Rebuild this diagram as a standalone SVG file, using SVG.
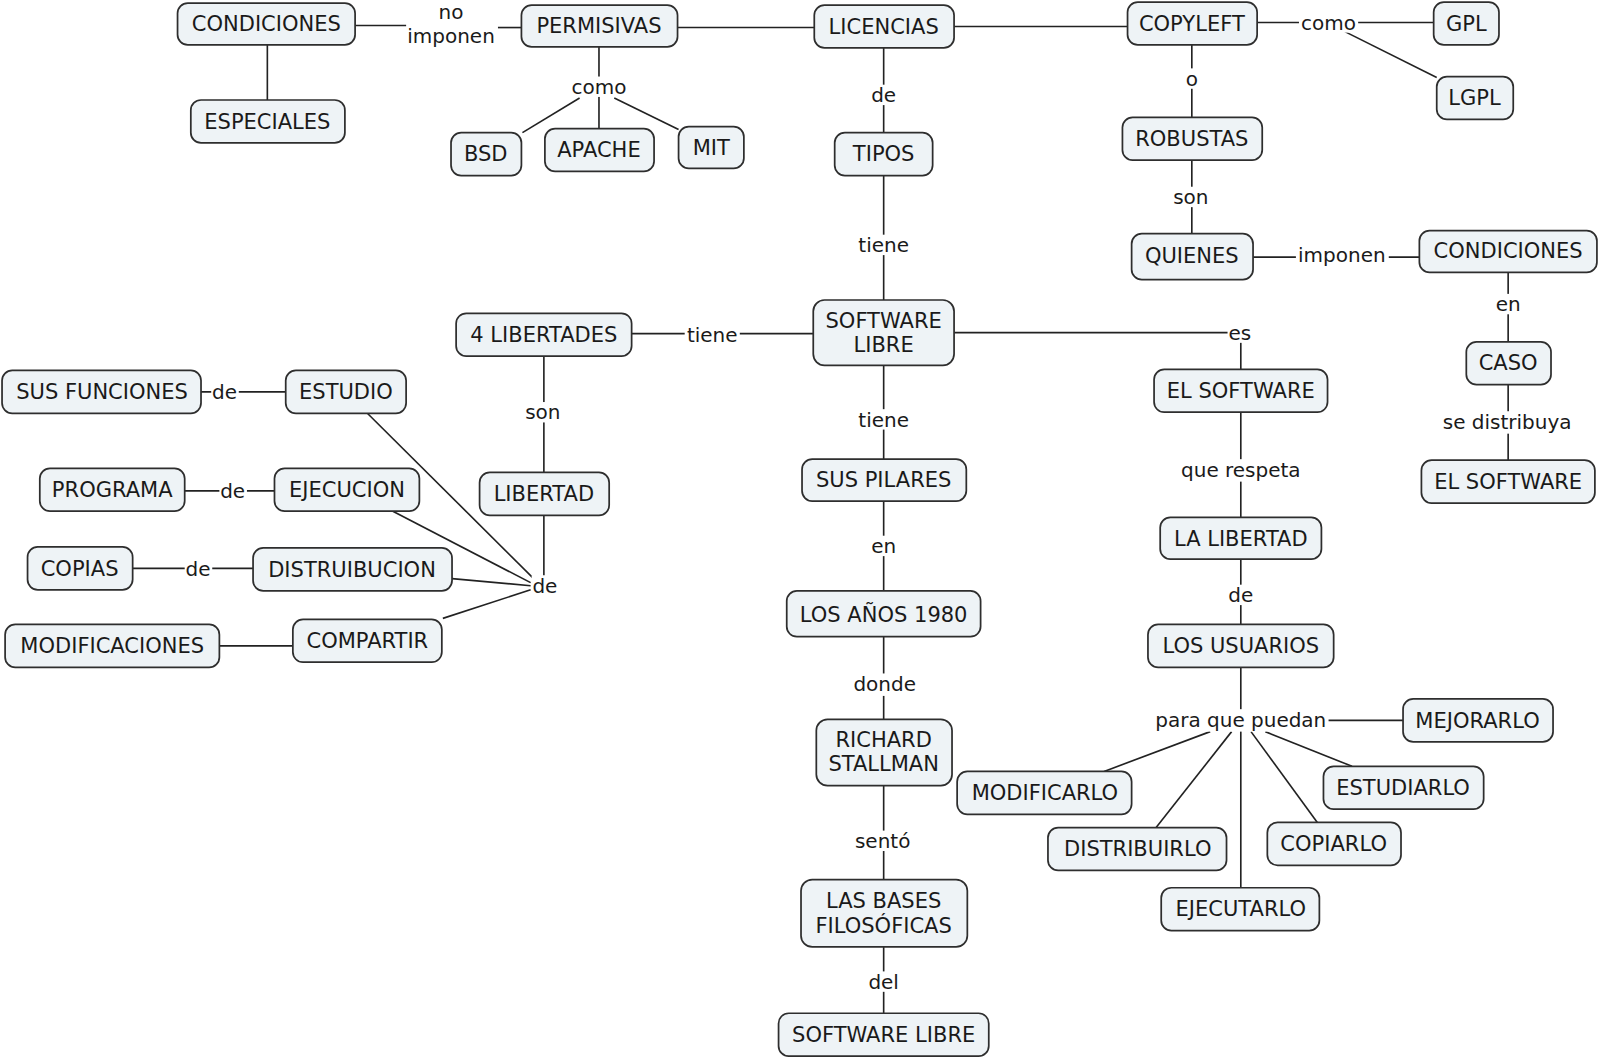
<svg xmlns="http://www.w3.org/2000/svg" width="1600" height="1059" viewBox="0 0 1600 1059">
<style>
.bg{fill:#ffffff}
.n rect{fill:#eef3f6;stroke:#2e2e2e;stroke-width:1.7}
text{font-family:"DejaVu Sans","Verdana",sans-serif;font-size:19.6px;fill:#1a1a1a;text-anchor:middle}
.n text{font-size:20.6px}
.c line,.c polyline{stroke:#222;stroke-width:1.6;fill:none}
.lb rect{fill:#fff}
</style>
<rect class="bg" x="0" y="0" width="1600" height="1059"/>
<g transform="scale(1.0204)">
<g id="connectors" class="c">
<line x1="348" y1="25" x2="400" y2="25"/>
<line x1="485" y1="27" x2="511" y2="27"/>
<line x1="262" y1="44" x2="262" y2="98"/>
<line x1="664" y1="27" x2="798" y2="27"/>
<line x1="587" y1="46" x2="587" y2="126"/>
<line x1="568" y1="96" x2="512" y2="130"/>
<line x1="602" y1="96" x2="665" y2="127"/>
<line x1="866" y1="47" x2="866" y2="294"/>
<line x1="935" y1="26" x2="1105" y2="26"/>
<line x1="1232" y1="22" x2="1405" y2="22"/>
<line x1="1318" y1="31" x2="1408" y2="76"/>
<line x1="1168" y1="44" x2="1168" y2="229"/>
<line x1="1228" y1="252" x2="1391" y2="252"/>
<line x1="1478" y1="267" x2="1478" y2="451"/>
<line x1="619" y1="327" x2="797" y2="327"/>
<polyline points="935,326 1216,326 1216,362"/>
<line x1="533" y1="349" x2="533" y2="564"/>
<line x1="523" y1="567" x2="360" y2="405"/>
<line x1="520" y1="571" x2="385" y2="501"/>
<line x1="520" y1="574" x2="443" y2="567"/>
<line x1="520" y1="578" x2="434" y2="606"/>
<line x1="197" y1="384" x2="280" y2="384"/>
<line x1="181" y1="481" x2="269" y2="481"/>
<line x1="130" y1="557" x2="248" y2="557"/>
<line x1="215" y1="633" x2="287" y2="633"/>
<line x1="866" y1="358" x2="866" y2="993"/>
<line x1="1216" y1="404" x2="1216" y2="870"/>
<line x1="1300" y1="706" x2="1375" y2="706"/>
<line x1="1186" y1="717" x2="1082" y2="756"/>
<line x1="1207" y1="717" x2="1133" y2="811"/>
<line x1="1226" y1="717" x2="1291" y2="806"/>
<line x1="1240" y1="717" x2="1325" y2="751"/>
</g>
<g id="labels" class="lb">
<rect x="398" y="1" width="90" height="46"/><text x="442" y="19">no</text><text x="442" y="42">imponen</text>
<rect x="559" y="75" width="57" height="20"/><text x="587" y="92">como</text>
<rect x="853" y="83" width="27" height="20"/><text x="866" y="100">de</text>
<rect x="839" y="230" width="54" height="20"/><text x="866" y="247">tiene</text>
<rect x="1161" y="67" width="14" height="20"/><text x="1168" y="84">o</text>
<rect x="1273" y="12" width="58" height="20"/><text x="1302" y="29">como</text>
<rect x="1149" y="183" width="37" height="20"/><text x="1167" y="200">son</text>
<rect x="1270" y="240" width="91" height="22"/><text x="1315" y="257">imponen</text>
<rect x="1465" y="288" width="27" height="20"/><text x="1478" y="305">en</text>
<rect x="1412" y="403" width="131" height="22"/><text x="1477" y="420">se distribuya</text>
<rect x="671" y="318" width="54" height="20"/><text x="698" y="335">tiene</text>
<rect x="1203" y="316" width="25" height="20"/><text x="1215" y="333">es</text>
<rect x="514" y="394" width="37" height="20"/><text x="532" y="411">son</text>
<rect x="207" y="374" width="27" height="20"/><text x="220" y="391">de</text>
<rect x="215" y="471" width="27" height="20"/><text x="228" y="488">de</text>
<rect x="181" y="547" width="27" height="20"/><text x="194" y="564">de</text>
<rect x="521" y="564" width="27" height="20"/><text x="534" y="581">de</text>
<rect x="839" y="401" width="54" height="20"/><text x="866" y="418">tiene</text>
<rect x="853" y="525" width="27" height="20"/><text x="866" y="542">en</text>
<rect x="835" y="660" width="65" height="22"/><text x="867" y="677">donde</text>
<rect x="837" y="814" width="57" height="20"/><text x="865" y="831">sentó</text>
<rect x="850" y="952" width="33" height="20"/><text x="866" y="969">del</text>
<rect x="1155" y="450" width="122" height="22"/><text x="1216" y="467">que respeta</text>
<rect x="1203" y="573" width="27" height="20"/><text x="1216" y="590">de</text>
<rect x="1130" y="695" width="172" height="22"/><text x="1216" y="712">para que puedan</text>
</g>
<g id="n-condiciones1" class="n"><rect x="174" y="3" width="174" height="41" rx="10"/><text x="261" y="30">CONDICIONES</text></g>
<g id="n-especiales" class="n"><rect x="187" y="98" width="151" height="42" rx="10"/><text x="262" y="126">ESPECIALES</text></g>
<g id="n-permisivas" class="n"><rect x="511" y="5" width="153" height="41" rx="10"/><text x="587" y="32">PERMISIVAS</text></g>
<g id="n-bsd" class="n"><rect x="442" y="130" width="69" height="42" rx="10"/><text x="476" y="158">BSD</text></g>
<g id="n-apache" class="n"><rect x="534" y="126" width="107" height="42" rx="10"/><text x="587" y="154">APACHE</text></g>
<g id="n-mit" class="n"><rect x="665" y="124" width="64" height="41" rx="10"/><text x="697" y="152">MIT</text></g>
<g id="n-licencias" class="n"><rect x="798" y="5" width="137" height="42" rx="10"/><text x="866" y="33">LICENCIAS</text></g>
<g id="n-tipos" class="n"><rect x="818" y="130" width="96" height="42" rx="10"/><text x="866" y="158">TIPOS</text></g>
<g id="n-copyleft" class="n"><rect x="1105" y="2" width="127" height="42" rx="10"/><text x="1168" y="30">COPYLEFT</text></g>
<g id="n-gpl" class="n"><rect x="1405" y="2" width="64" height="42" rx="10"/><text x="1437" y="30">GPL</text></g>
<g id="n-lgpl" class="n"><rect x="1408" y="75" width="75" height="42" rx="10"/><text x="1445" y="103">LGPL</text></g>
<g id="n-robustas" class="n"><rect x="1100" y="115" width="137" height="42" rx="10"/><text x="1168" y="143">ROBUSTAS</text></g>
<g id="n-quienes" class="n"><rect x="1109" y="229" width="119" height="45" rx="10"/><text x="1168" y="258">QUIENES</text></g>
<g id="n-condiciones2" class="n"><rect x="1391" y="226" width="174" height="41" rx="10"/><text x="1478" y="253">CONDICIONES</text></g>
<g id="n-caso" class="n"><rect x="1437" y="335" width="83" height="42" rx="10"/><text x="1478" y="363">CASO</text></g>
<g id="n-elsoftware2" class="n"><rect x="1393" y="451" width="170" height="42" rx="10"/><text x="1478" y="479">EL SOFTWARE</text></g>
<g id="n-softwarelibre" class="n"><rect x="797" y="294" width="138" height="64" rx="11"/><text x="866" y="321">SOFTWARE</text><text x="866" y="345">LIBRE</text></g>
<g id="n-4libertades" class="n"><rect x="447" y="307" width="172" height="42" rx="10"/><text x="533" y="335">4 LIBERTADES</text></g>
<g id="n-libertad" class="n"><rect x="470" y="463" width="127" height="42" rx="10"/><text x="533" y="491">LIBERTAD</text></g>
<g id="n-susfunciones" class="n"><rect x="2" y="363" width="195" height="42" rx="10"/><text x="100" y="391">SUS FUNCIONES</text></g>
<g id="n-estudio" class="n"><rect x="280" y="363" width="118" height="42" rx="10"/><text x="339" y="391">ESTUDIO</text></g>
<g id="n-programa" class="n"><rect x="39" y="459" width="142" height="42" rx="10"/><text x="110" y="487">PROGRAMA</text></g>
<g id="n-ejecucion" class="n"><rect x="269" y="459" width="142" height="42" rx="10"/><text x="340" y="487">EJECUCION</text></g>
<g id="n-copias" class="n"><rect x="27" y="536" width="103" height="42" rx="10"/><text x="78" y="564">COPIAS</text></g>
<g id="n-distruibucion" class="n"><rect x="248" y="537" width="195" height="42" rx="10"/><text x="345" y="565">DISTRUIBUCION</text></g>
<g id="n-modificaciones" class="n"><rect x="5" y="612" width="210" height="42" rx="10"/><text x="110" y="640">MODIFICACIONES</text></g>
<g id="n-compartir" class="n"><rect x="287" y="607" width="146" height="42" rx="10"/><text x="360" y="635">COMPARTIR</text></g>
<g id="n-suspilares" class="n"><rect x="786" y="450" width="161" height="41" rx="10"/><text x="866" y="477">SUS PILARES</text></g>
<g id="n-anos1980" class="n"><rect x="771" y="579" width="190" height="45" rx="10"/><text x="866" y="610">LOS AÑOS 1980</text></g>
<g id="n-stallman" class="n"><rect x="800" y="705" width="133" height="65" rx="11"/><text x="866" y="732">RICHARD</text><text x="866" y="756">STALLMAN</text></g>
<g id="n-bases" class="n"><rect x="785" y="862" width="163" height="66" rx="11"/><text x="866" y="890">LAS BASES</text><text x="866" y="914">FILOSÓFICAS</text></g>
<g id="n-softwarelibre2" class="n"><rect x="763" y="993" width="206" height="42" rx="10"/><text x="866" y="1021">SOFTWARE LIBRE</text></g>
<g id="n-elsoftware1" class="n"><rect x="1131" y="362" width="170" height="42" rx="10"/><text x="1216" y="390">EL SOFTWARE</text></g>
<g id="n-lalibertad" class="n"><rect x="1137" y="507" width="158" height="41" rx="10"/><text x="1216" y="535">LA LIBERTAD</text></g>
<g id="n-losusuarios" class="n"><rect x="1125" y="612" width="182" height="42" rx="10"/><text x="1216" y="640">LOS USUARIOS</text></g>
<g id="n-mejorarlo" class="n"><rect x="1375" y="685" width="147" height="42" rx="10"/><text x="1448" y="713">MEJORARLO</text></g>
<g id="n-modificarlo" class="n"><rect x="938" y="756" width="171" height="42" rx="10"/><text x="1024" y="784">MODIFICARLO</text></g>
<g id="n-estudiarlo" class="n"><rect x="1297" y="751" width="157" height="42" rx="10"/><text x="1375" y="779">ESTUDIARLO</text></g>
<g id="n-distribuirlo" class="n"><rect x="1027" y="811" width="175" height="42" rx="10"/><text x="1115" y="839">DISTRIBUIRLO</text></g>
<g id="n-copiarlo" class="n"><rect x="1242" y="806" width="131" height="42" rx="10"/><text x="1307" y="834">COPIARLO</text></g>
<g id="n-ejecutarlo" class="n"><rect x="1138" y="870" width="155" height="42" rx="10"/><text x="1216" y="898">EJECUTARLO</text></g>
</g>
</svg>
